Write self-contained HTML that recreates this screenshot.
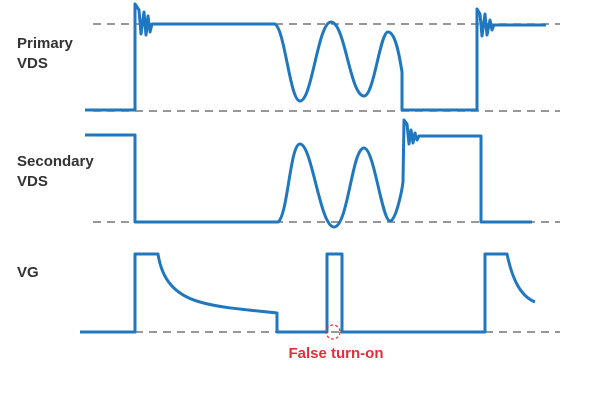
<!DOCTYPE html>
<html><head><meta charset="utf-8"><style>
html,body{margin:0;padding:0;background:#fff;}
svg{display:block;}
text{font-family:"Liberation Sans",Arial,sans-serif;font-weight:bold;}
</style></head><body>
<svg width="605" height="408" viewBox="0 0 605 408" xmlns="http://www.w3.org/2000/svg">
<g stroke="#777" stroke-width="1.5" stroke-dasharray="8,6" fill="none">
<line x1="93" y1="24" x2="560" y2="24"/>
<line x1="93" y1="111" x2="560" y2="111"/>
<line x1="93" y1="222" x2="560" y2="222"/>
<line x1="135" y1="332" x2="560" y2="332"/>
</g>
<g fill="#333" font-size="15">
<text x="17" y="48">Primary</text>
<text x="17" y="68">VDS</text>
<text x="17" y="166">Secondary</text>
<text x="17" y="186">VDS</text>
<text x="17" y="277">VG</text>
</g>
<g stroke="#1f77c0" stroke-width="3" fill="none" stroke-linejoin="round">
<path d="M85,110 H135 V4 L139,10 L141,34 L144,12 L146,35 L148,16 L150,32 L152,24 H275 C285,30 290,101 300,101 C312,101 318,22 331,22 C345,22 350,96 364,96 C374,96 380,32 388,32 C396,32 400,60 402,72 V110 H477 V9 L480,14 L482,36 L485,14 L487,35 L490,20 L492,30 L494,25 H546"/>
<path d="M85,135 H135 V222 H278 C288,215 290,144 300,144 C312,144 320,227 334,227 C348,227 352,148 364,148 C374,148 382,221 390,221 C396,221 402,190 403,182 L404,120 L407,124 L409,144 L411,130 L413,143 L415,133 L417,140 L419,136 H481 V222 H532"/>
<path d="M80,332 H135 V254 H158 C162,280 175,295 200,302 C220,308 250,310 277,313 V332 H327 V254 H342 V332 H485 V254 H507 C512,278 520,296 535,302"/>
</g>
<circle cx="333" cy="332" r="7" fill="none" stroke="#e0303a" stroke-width="1.2" stroke-dasharray="3,2"/>
<text x="336" y="358" fill="#e0303a" font-size="15" text-anchor="middle">False turn-on</text>
</svg>
</body></html>
